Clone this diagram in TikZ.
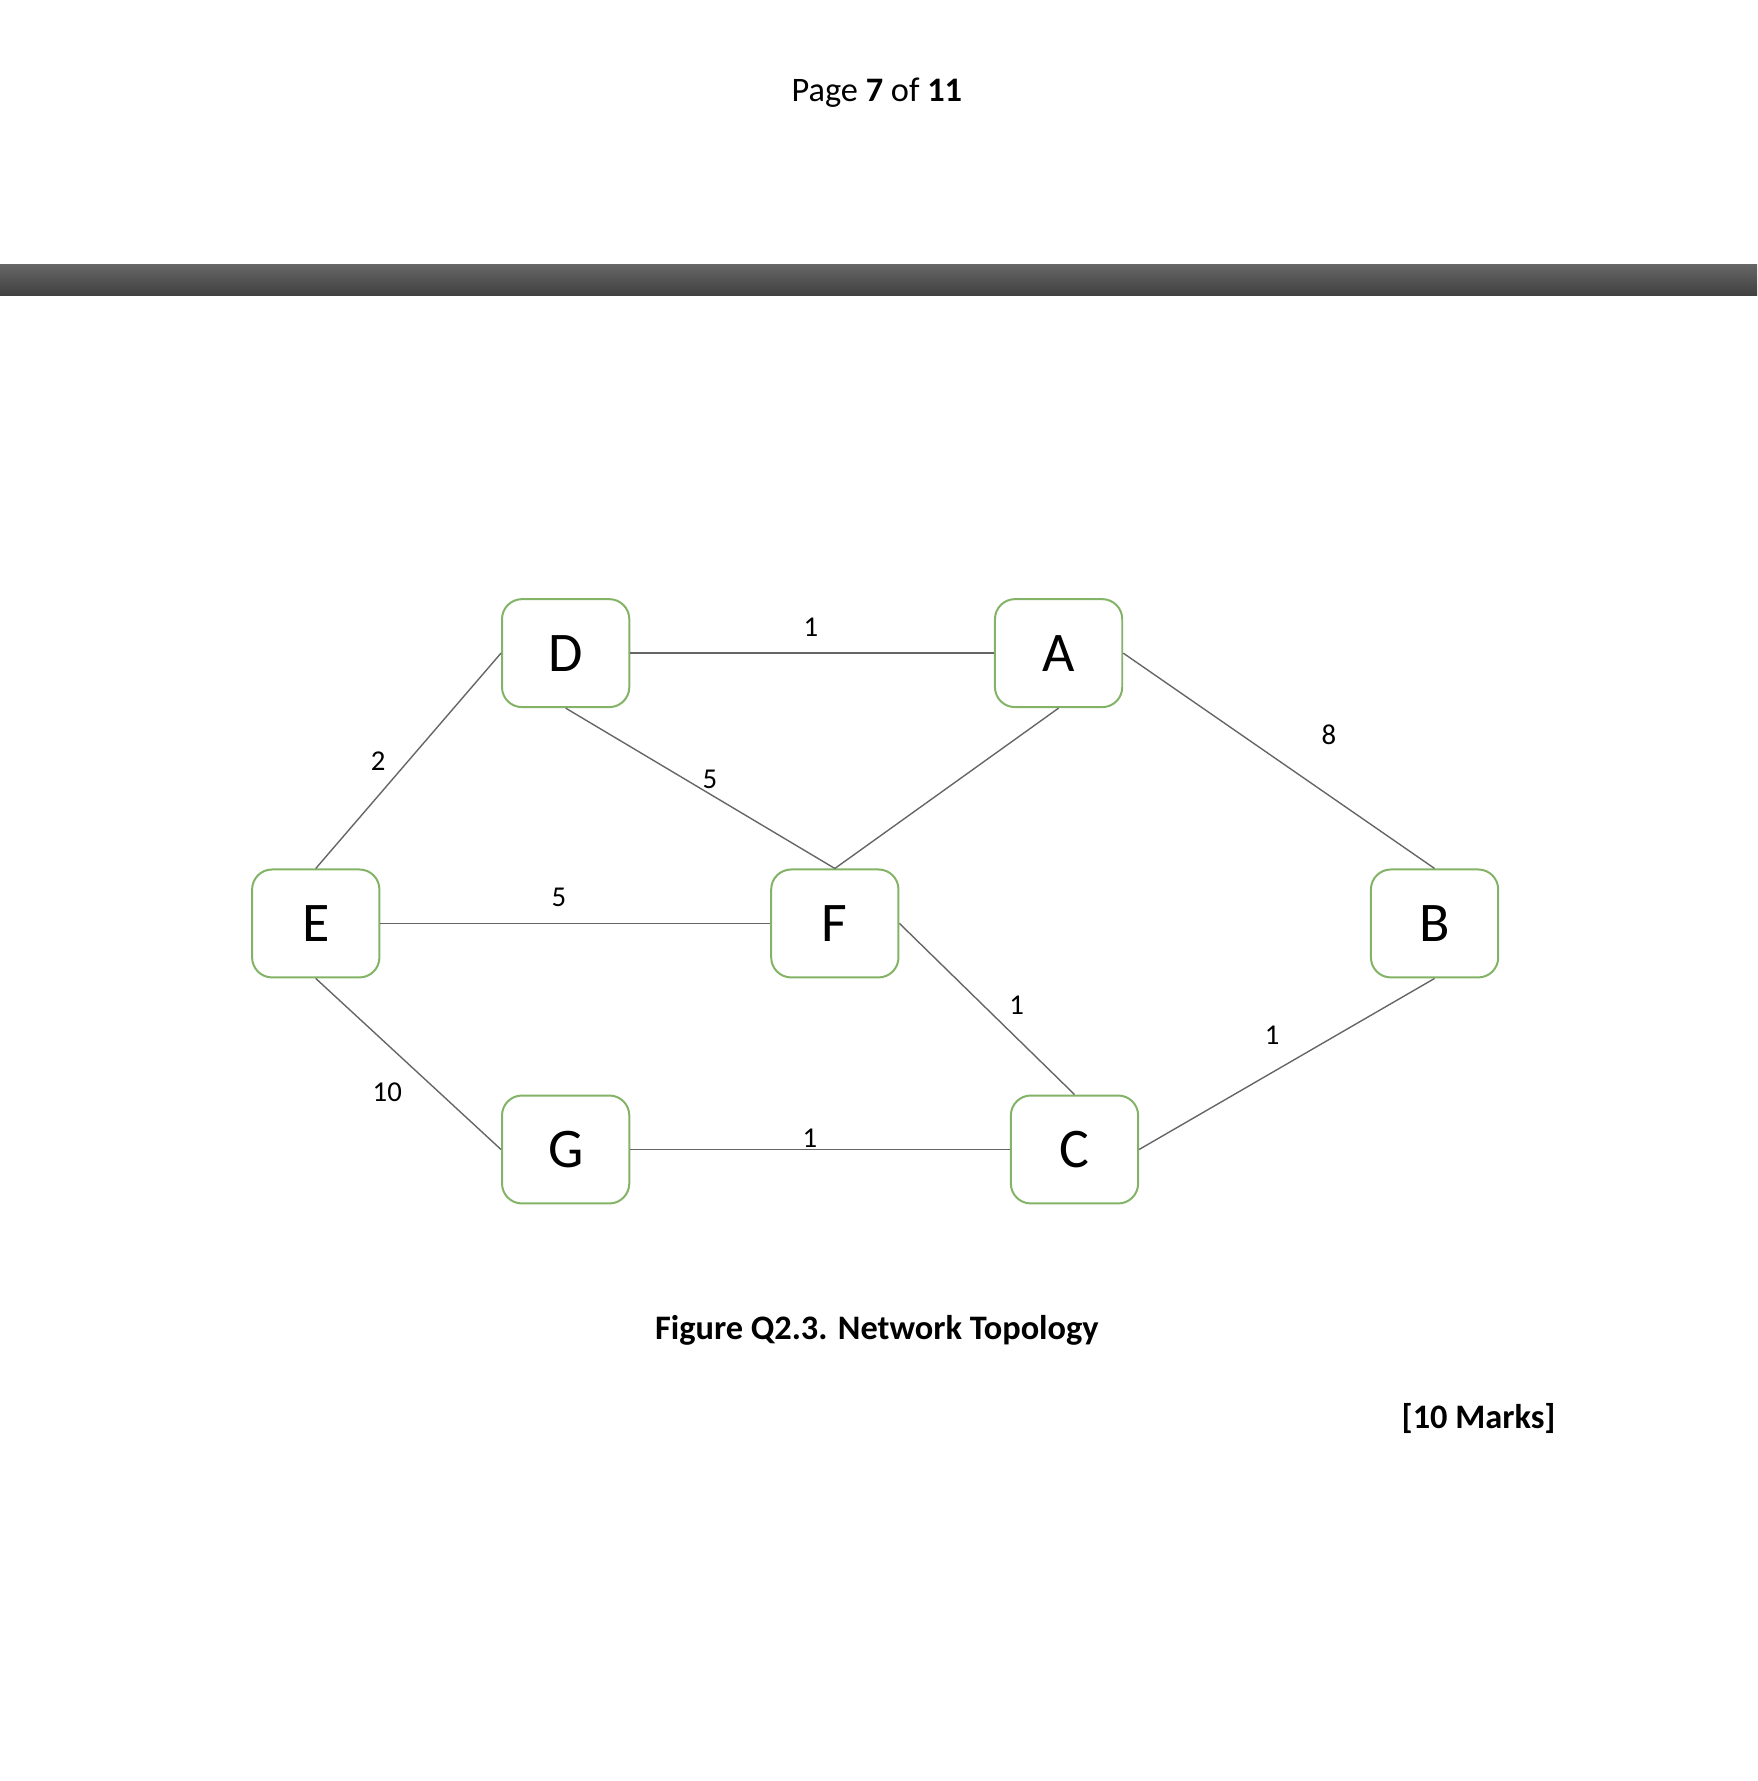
\documentclass[tikz,border=0pt]{standalone}
\usepackage{fontspec}
\setmainfont{Carlito}
\begin{document}
\begin{tikzpicture}[x=0.01cm,y=-0.01cm,
 box/.style={draw=green!45!black!60!white,draw=boxg,line width=0.5pt,rounded corners=5pt,minimum width=1.12cm,minimum height=0.95cm,inner sep=0pt,font=\fontsize{14}{16}\selectfont},
 ed/.style={draw=gray!80!black,line width=0.35pt},
 lb/.style={font=\fontsize{7.2}{8}\selectfont}]
\definecolor{boxg}{HTML}{82B366}
\useasboundingbox (0,0) rectangle (1547,1568);
\node (hdr) at (772,82) {\fontsize{8.6}{10}\selectfont Page \textbf{7} of \textbf{11}};
\shade[top color=gray!80!black,bottom color=black!75] (0,233) rectangle (1547,260);
\node[box] (D) at (498,575) {D};
\node[box] (A) at (932,575) {A};
\node[box] (E) at (278,813) {E};
\node[box] (F) at (735,813) {F};
\node[box] (B) at (1263,813) {B};
\node[box] (G) at (498,1012) {G};
\node[box] (C) at (946,1012) {C};
\draw[ed] (D.east) -- (A.west);
\draw[ed] (E.north) -- (D.west);
\draw[ed] (D.south) -- (F.north);
\draw[ed] (A.south) -- (F.north);
\draw[ed] (A.east) -- (B.north);
\draw[ed] (E.east) -- (F.west);
\draw[ed] (F.east) -- (C.north);
\draw[ed] (E.south) -- (G.west);
\draw[ed] (G.east) -- (C.west);
\draw[ed] (C.east) -- (B.south);
\node[lb] (l1) at (714,552) {1};
\node[lb] (l2) at (333,670) {2};
\node[lb] (l3) at (625,686) {5};
\node[lb] (l4) at (1170,647) {8};
\node[lb] (l5) at (492,790) {5};
\node[lb] (l6) at (895,885) {1};
\node[lb] (l7) at (1120,911) {1};
\node[lb] (l8) at (341,962) {10};
\node[lb] (l9) at (713,1002) {1};
\node (cap) at (772,1171) {\fontsize{8.6}{10}\selectfont\bfseries Figure Q2.3. Network Topology};
\node[anchor=east] (mk) at (1382,1249) {\fontsize{8.6}{10}\selectfont\bfseries [10 Marks]};
\end{tikzpicture}
\end{document}
